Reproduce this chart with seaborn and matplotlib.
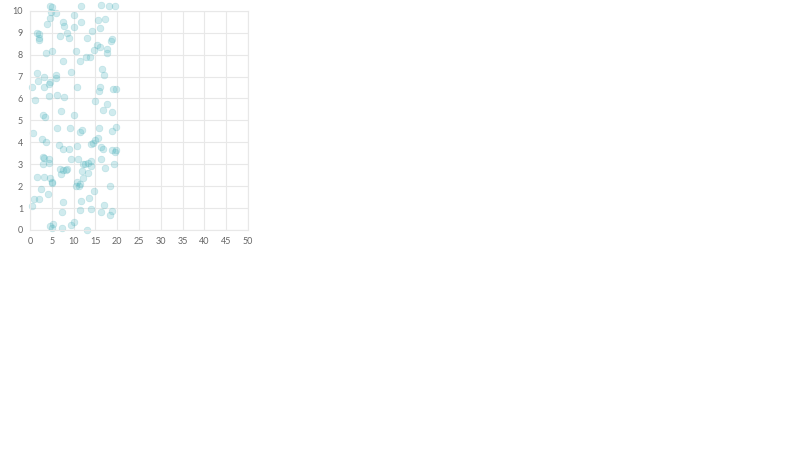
import matplotlib
matplotlib.use('Agg')
import matplotlib.pyplot as plt
import seaborn as sns
import pandas as pd

# scatter values
x_vals = [4.6, 5.1, 11.7, 16.2, 18.1, 19.6, 4.8, 5.9, 10.2, 4.6, 17.2, 15.6, 7.5, 11.8,
          7.8, 3.9, 10.2, 16.0, 1.5, 14.3, 2.0, 8.5, 6.9, 2.0, 8.9, 13.1, 2.1, 18.9,
          18.5, 15.3, 16.0, 17.7, 14.6, 10.6, 5.1, 17.6, 3.6, 12.8, 13.7, 7.6, 11.5,
          16.4, 9.3, 17.0, 1.5, 6.0, 3.2, 5.9, 1.9, 4.7, 4.4, 0.5, 3.1, 10.7, 16.0,
          19.8, 19.1, 15.8, 4.3, 6.1, 7.8, 1.1, 15.0, 17.7, 16.8, 7.1, 18.9, 3.0, 10.1,
          3.4,
          0.6, 6.3, 9.2, 11.5, 12.0, 15.9, 19.7, 18.7, 2.8, 3.7, 6.6, 7.6, 9.0, 10.7,
          13.9, 14.4, 15.0, 15.5, 16.2, 16.7, 18.9, 19.5, 19.7, 3.0, 3.3, 4.4, 9.4,
          11.0, 16.2, 3.0, 4.4, 12.1, 12.7, 13.4, 14.0, 14.0, 19.2, 6.9, 7.6, 8.2,
          8.6, 7.0, 11.9, 13.2, 17.1, 1.7, 3.2, 4.7, 12.2, 5.0, 5.1, 10.8, 11.5, 10.6,
          11.2, 18.4, 2.6, 4.1, 14.7, 1.0, 2.1, 7.5, 11.8, 13.6, 0.4, 17.0, 7.3, 11.5,
          13.9, 16.3, 18.7, 18.3, 5.2, 4.7, 5.1, 7.3, 9.4, 10.1, 13.1]
y_vals = [10.24, 10.17, 10.2, 10.27, 10.24, 10.24, 9.94, 9.92, 9.79, 9.65, 9.63, 9.56,
          9.51, 9.47, 9.32, 9.38, 9.28, 9.21, 9.0, 9.09, 8.92, 8.97, 8.83, 8.77, 8.75,
          8.74, 8.68, 8.72, 8.6, 8.42, 8.37, 8.26, 8.22, 8.17, 8.17, 8.07, 8.07, 7.9,
          7.9, 7.7, 7.7, 7.34, 7.23, 7.08, 7.15, 7.09, 6.96, 6.93, 6.8, 6.76, 6.67,
          6.51, 6.54, 6.53, 6.51, 6.42, 6.42, 6.33, 6.1, 6.16, 6.06, 5.95, 5.88, 5.74,
          5.48, 5.42, 5.36, 5.25, 5.25, 5.14,
          4.41, 4.64, 4.64, 4.48, 4.57, 4.67, 4.71, 4.53, 4.15, 4.0, 3.88, 3.68, 3.69,
          3.83, 3.91, 3.98, 4.1, 4.21, 3.77, 3.71, 3.66, 3.57, 3.66, 3.31, 3.3, 3.24,
          3.24, 3.24, 3.22, 2.99, 3.07, 2.99, 3.02, 3.04, 3.13, 2.93, 3.01, 2.77, 2.74,
          2.75, 2.77, 2.54, 2.71, 2.6, 2.81, 2.43, 2.43, 2.39, 2.39, 2.14, 2.2, 2.2,
          2.1, 2.0, 2.02, 2.0, 1.87, 1.63, 1.78, 1.4, 1.41, 1.29, 1.34, 1.46, 1.11,
          1.14, 0.81, 0.91, 0.94, 0.82, 0.87, 0.7, 0.26, 0.18, 0.11, 0.09, 0.23, 0.35,
          0.0]
x_ticks = [0, 5, 10, 15, 20, 25, 30, 35, 40, 45, 50]
y_ticks = [0, 1, 2, 3, 4, 5, 6, 7, 8, 9, 10]

df = pd.DataFrame({'x': x_vals, 'y': y_vals})

sns.set_style('white')
plt.rcParams['font.family'] = ['Lato', 'DejaVu Sans']

fig = plt.figure(figsize=(8, 4.5), dpi=100)
ax = fig.add_axes([0.0375, 0.489, 0.2725, 0.487])

sns.scatterplot(data=df, x='x', y='y', ax=ax, s=24, color='#4cb5c0',
                alpha=0.26, edgecolor='#3aa3ae', linewidth=0.4, clip_on=False)

ax.set_xlim(0, 50)
ax.set_ylim(0, 10)
ax.set_xticks(x_ticks)
ax.set_yticks(y_ticks)
ax.grid(True, color='#e8e8e8', linewidth=0.8)
ax.set_axisbelow(True)
for s in ax.spines.values():
    s.set_color('#e8e8e8')
    s.set_linewidth(0.8)
ax.tick_params(length=0, labelsize=6.5, labelcolor='#666666', pad=5)
ax.set_xlabel('')
ax.set_ylabel('')

fig.savefig('out.png', dpi=100)
